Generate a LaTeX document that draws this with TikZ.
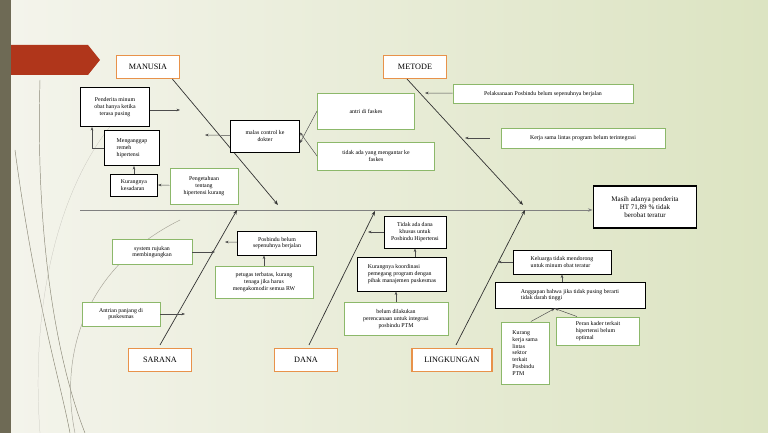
\documentclass[tikz,border=0pt]{standalone}
\usepackage{fontspec}
\setmainfont{Liberation Serif}
\usetikzlibrary{arrows.meta}
\definecolor{bgleft}{HTML}{F4F4EC}
\definecolor{bgright}{HTML}{DCE4C2}
\definecolor{strip}{HTML}{6E6A55}
\definecolor{redtab}{HTML}{B0361B}
\definecolor{orangebox}{HTML}{E8924A}
\definecolor{greenbox}{HTML}{8CB86A}
\tikzset{
headbox/.style={draw=orangebox, fill=white, line width=1.2pt, inner sep=0pt, minimum width=1.9cm, minimum height=0.68cm, font=\fontsize{7}{8}\selectfont},
blackbox/.style={draw=black, fill=white, thick, inner sep=1pt, align=center, font=\fontsize{5}{5.8}\selectfont},
greenbox/.style={draw=greenbox, fill=white, thick, inner sep=1pt, align=center, font=\fontsize{5}{5.8}\selectfont},
bone/.style={draw=black!80, semithick, -{Stealth[length=4pt]}},
twig/.style={draw=black!70, thin, -{Stealth[length=3pt]}},
}
\begin{document}
\begin{tikzpicture}[x=0.03cm, y=-0.03cm]
        \useasboundingbox (0,0) rectangle (768,433);
        \shade[left color=bgleft, right color=bgright] (0,0) rectangle (768,433);
        \fill[strip] (0,0) rectangle (11,433);
        \fill[redtab] (11,45) -- (88,45) -- (100,60) -- (88,75) -- (11,75) -- cycle;
        % decorative curves
        \draw[strip!80, thin] (40,80) .. controls (35,250) and (60,370) .. (85,433);
        \draw[strip!80, thin] (15,150) .. controls (35,300) and (60,380) .. (70,433);
        \draw[strip!60, thin] (180,220) .. controls (80,270) and (60,360) .. (75,433);
        \draw[strip!40, very thin] (120,115) .. controls (60,180) and (30,300) .. (40,433);

        % heads and effect
        \node[headbox] (manusia) at (148,67) {MANUSIA};
        \node[headbox] (metode) at (415,67) {METODE};
        \node[headbox] (sarana) at (160,360) {SARANA};
        \node[headbox] (dana) at (306,360) {DANA};
        \node[headbox, minimum width=2.4cm] (lingkungan) at (452,360) {LINGKUNGAN};
        \node[draw=black, fill=white, line width=1.3pt, align=center, minimum width=3.1cm, minimum height=1.26cm, font=\fontsize{6}{7}\selectfont] (effect) at (645,207) {Masih adanya penderita\\HT 71,89 \% tidak\\berobat teratur};
        \coordinate (tail) at (80,210);
        \draw[draw=gray, thick, -{Stealth[length=4pt]}] (tail) -- (effect.west |- tail);

        % main bones
        \coordinate (m1) at (278,205);
        \coordinate (t1) at (523,205);
        \coordinate (s1) at (237,210);
        \coordinate (d1) at (375,211);
        \coordinate (l1) at (525,210);
        \draw[bone] (manusia.south east) ++(-8,0) -- (m1);
        \draw[bone] (metode.south) ++(-8,0) -- (t1);
        \draw[bone] (sarana.north) ++(0,-3) -- (s1);
        \draw[bone] (dana.north) ++(3,-3) -- (d1);
        \draw[bone] (lingkungan.north) ++(4,-3) -- (l1);

        % manusia
        \node[blackbox, minimum width=2.07cm, minimum height=1.17cm] (minum) at (115,107) {Penderita minum\\obat hanya ketika\\terasa pusing};
        \node[blackbox, minimum width=1.65cm, minimum height=1.05cm, align=left] (remeh) at (132,148) {Menganggap\\remeh\\hipertensi};
        \node[blackbox, minimum width=1.41cm, minimum height=0.66cm, align=left] (sadar) at (134,185) {Kurangnya\\kesadaran};
        \node[greenbox, minimum width=2.04cm, minimum height=1.08cm] (tahu) at (204,186) {Pengetahuan\\tentang\\hipertensi kurang};
        \node[blackbox, minimum width=2.07cm, minimum height=0.96cm] (malas) at (265,136) {malas control ke\\dokter};
        \node[greenbox, minimum width=2.91cm, minimum height=1.08cm] (antri) at (366,111) {antri di faskes};
        \node[greenbox, minimum width=3.51cm, minimum height=0.84cm] (antar) at (376,156) {tidak ada yang mengantar ke\\faskes};
        \coordinate (m2) at (180,110);
        \coordinate (m3) at (205,135);
        \coordinate (m4) at (92,148);
        \draw[twig] (minum.east |- m2) -- (m2);
        \draw[twig] (remeh.west) -- (m4) -- (m4 |- minum.south);
        \draw[twig] (sadar) -- (remeh.south -| sadar);
        \draw[twig] (tahu) -- (sadar.east);
        \draw[twig] (malas) -- (m3);
        \draw[twig] (antri.west) -- ([yshift=-6]malas.east);
        \draw[twig] (antar.west) -- ([yshift=3]malas.east);

        % metode
        \node[greenbox, minimum width=5.4cm, minimum height=0.57cm] (laksana) at (543,94) {Pelaksanaan Posbindu belum sepenuhnya berjalan};
        \node[greenbox, minimum width=4.92cm, minimum height=0.6cm] (lintas) at (583,138) {Kerja sama lintas program belum terintegrasi};
        \coordinate (t2) at (425,93);
        \coordinate (t3) at (465,138);
        \draw[twig] (laksana) -- (t2);
        \draw[twig] ([xshift=-9]lintas.west) -- (t3);

        % sarana
        \node[greenbox, minimum width=2.4cm, minimum height=0.75cm] (rujuk) at (152,252) {system rujukan\\membingungkan};
        \node[greenbox, minimum width=2.34cm, minimum height=0.72cm] (antrian) at (121,314) {Antrian panjang di\\puskesmas};
        \node[blackbox, minimum width=2.37cm, minimum height=0.72cm] (posb) at (277,243) {Posbindu belum\\sepenuhnya berjalan};
        \node[greenbox, minimum width=2.94cm, minimum height=0.96cm] (petugas) at (264,282) {petugas terbatas, kurang\\tenaga jika harus\\mengakomodir semua RW};
        \coordinate (s2) at (215,252);
        \coordinate (s3) at (185,314);
        \coordinate (s4) at (225,242);
        \draw[twig] (rujuk) -- (s2);
        \draw[twig] (antrian) -- (s3);
        \draw[twig] (posb) -- (s4);
        \draw[twig] (petugas) -- (posb.south -| petugas);

        % dana
        \node[blackbox, minimum width=1.86cm, minimum height=0.96cm] (khusus) at (415,232) {Tidak ada dana\\khusus untuk\\Posbindu Hipertensi};
        \node[blackbox, minimum width=2.67cm, minimum height=1.02cm, align=left] (koord) at (402,274) {Kurangnya koordinasi\\pemegang program dengan\\pihak manajemen puskesmas};
        \node[greenbox, minimum width=3.12cm, minimum height=0.99cm] (rencana) at (396,319) {belum dilakukan\\perencanaan untuk integrasi\\posbindu PTM};
        \coordinate (d2) at (368,232);
        \draw[twig] (khusus) -- (d2);
        \draw[twig] (koord.north -| khusus) -- (khusus);
        \draw[twig] (rencana) -- (koord.south -| rencana);

        % lingkungan
        \node[blackbox, minimum width=2.94cm, minimum height=0.72cm, align=left] (keluarga) at (562,262) {Keluarga tidak mendorong\\untuk minum obat teratur};
        \node[blackbox, minimum width=4.5cm, minimum height=0.78cm, align=left] (anggap) at (570,295) {Anggapan bahwa jika tidak pusing berarti\\tidak darah tinggi};
        \node[greenbox, minimum width=1.44cm, minimum height=1.86cm, align=left] (sektor) at (525,353) {Kurang\\kerja sama\\lintas\\sektor\\terkait\\Posbindu\\PTM};
        \node[greenbox, minimum width=2.49cm, minimum height=0.84cm, align=left] (kader) at (598,331) {Peran kader terkait\\hipertensi belum\\optimal};
        \coordinate (l2) at (498,262);
        \draw[twig] (keluarga) -- (l2);
        \draw[twig] (anggap.north -| keluarga) -- (keluarga);
        \draw[twig] ([xshift=5]sektor.north) -- ([xshift=-13]anggap.south);
        \draw[twig] ([xshift=-18]kader.north) -- ([xshift=-13]anggap.south);
\end{tikzpicture}
\end{document}
